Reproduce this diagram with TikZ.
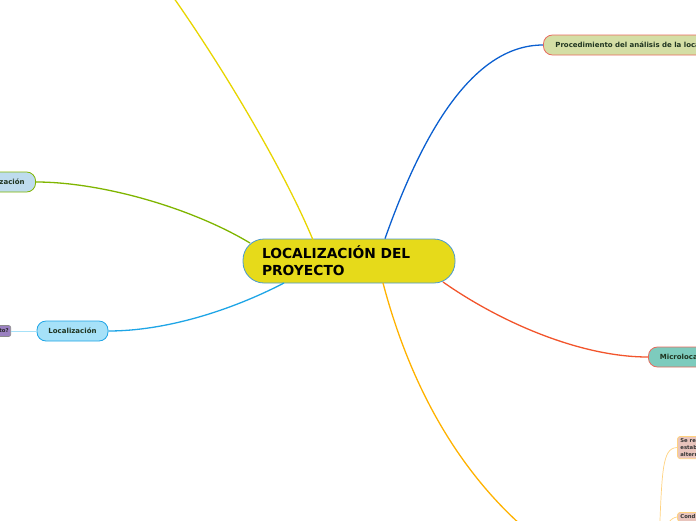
\documentclass[tikz,border=0pt]{standalone}
\usepackage{fontspec}
\setmainfont{DejaVu Sans}
\usepackage{tikz}
\usetikzlibrary{positioning}

\definecolor{centrofill}{HTML}{E6DA1A}
\definecolor{centroborde}{HTML}{4A9AD0}
\definecolor{procfill}{HTML}{D4DEA5}
\definecolor{rojoborde}{HTML}{E86A5E}
\definecolor{microfill}{HTML}{7DCBBD}
\definecolor{macrofill}{HTML}{BEDCEE}
\definecolor{verde}{HTML}{7FB500}
\definecolor{locfill}{HTML}{A6E1F8}
\definecolor{celeste}{HTML}{1EA5E6}
\definecolor{morado}{HTML}{9A80C0}
\definecolor{rosa}{HTML}{E8C4BC}
\definecolor{naranjaclaro}{HTML}{FFD27F}
\definecolor{azul}{HTML}{0B5FD0}
\definecolor{rojizo}{HTML}{F2552C}
\definecolor{amarillo}{HTML}{E8D500}
\definecolor{naranja}{HTML}{FFB200}
\definecolor{textoverde}{HTML}{1F3420}

\begin{document}
\begin{tikzpicture}[x=1pt,y=-1pt]
	\tikzstyle{tema}=[draw,line width=0.8pt,rounded corners=9pt,minimum height=20pt,inner ysep=0pt,font=\fontsize{7}{8}\selectfont\bfseries]
	\tikzstyle{nota}=[draw=naranjaclaro,fill=rosa,line width=0.8pt,rounded corners=3pt,inner xsep=3pt,inner ysep=2.5pt,align=left,font=\fontsize{5.3}{6.6}\selectfont\bfseries,text=black!80]
	\tikzstyle{rama}=[line width=1.3pt]
	\useasboundingbox (0,0) rectangle (696,520);
	\clip (0,0) rectangle (696,520);
	% nodo central
	\node[draw=centroborde,fill=centrofill,line width=0.8pt,rounded corners=21pt,text width=174pt,inner xsep=19pt,minimum height=44pt,align=left,font=\fontsize{13.8}{17}\selectfont\bfseries] (centro) at (349,261) {LOCALIZACIÓN DEL\\PROYECTO};
	% temas
	\node[tema,draw=rojoborde,fill=procfill,text=textoverde,anchor=west,inner xsep=12pt] (proc) at (543,45) {Procedimiento del análisis de la localización};
	\node[tema,draw=rojoborde,fill=microfill,text=textoverde,anchor=west,inner xsep=11.5pt] (micro) at (648,357) {Microlocalización};
	\node[tema,draw=verde,fill=macrofill,text=textoverde,anchor=east,inner xsep=11pt] (macro) at (36,182) {Macrolocalización};
	\node[tema,draw=celeste,fill=locfill,text=textoverde,minimum width=71pt] (loc) at (72.5,331) {Localización};
	\node[draw=black!45,fill=morado,line width=0.6pt,rounded corners=2pt,inner xsep=2pt,inner ysep=0pt,minimum height=11pt,anchor=east,font=\fontsize{5.3}{6}\selectfont\bfseries,text=black!85] (pregunta) at (11,331) {¿Qué es la localización de un proyecto?};
	\node[nota,anchor=north west] (nota1) at (677,436) {Se requiere\\establecer\\alternativas};
	\node[nota,anchor=north west] (nota2) at (677,512) {Condiciones};
	% ramas que salen del cuadro
	\coordinate (arriba) at (150,-35);
	\coordinate (abajo) at (545,545);
	\coordinate (subrama) at (659,545);
	% conexiones
	\draw[rama,azul] (centro.north) ++(36,0) .. controls (420,140) and (470,45) .. (proc.west);
	\draw[rama,rojizo] (443,282) .. controls (500,322) and (580,357) .. (micro.west);
	\draw[rama,verde] (250,243) .. controls (190,207) and (100,182) .. (macro.east);
	\draw[rama,celeste] (284,283) .. controls (230,311) and (165,331) .. (loc.east);
	\draw[rama,amarillo] (313,240) .. controls (282,165) and (210,45) .. (arriba);
	\draw[rama,naranja] (383,283) .. controls (410,385) and (460,480) .. (abajo);
	\draw[line width=0.7pt,locfill] (loc.west) -- (pregunta.east);
	\draw[line width=0.7pt,naranjaclaro] (subrama) .. controls (662,470) and (662,448) .. (nota1.west);
	\draw[line width=0.7pt,naranjaclaro] (subrama) .. controls (665,525) and (670,518) .. (nota2.west);
\end{tikzpicture}
\end{document}
